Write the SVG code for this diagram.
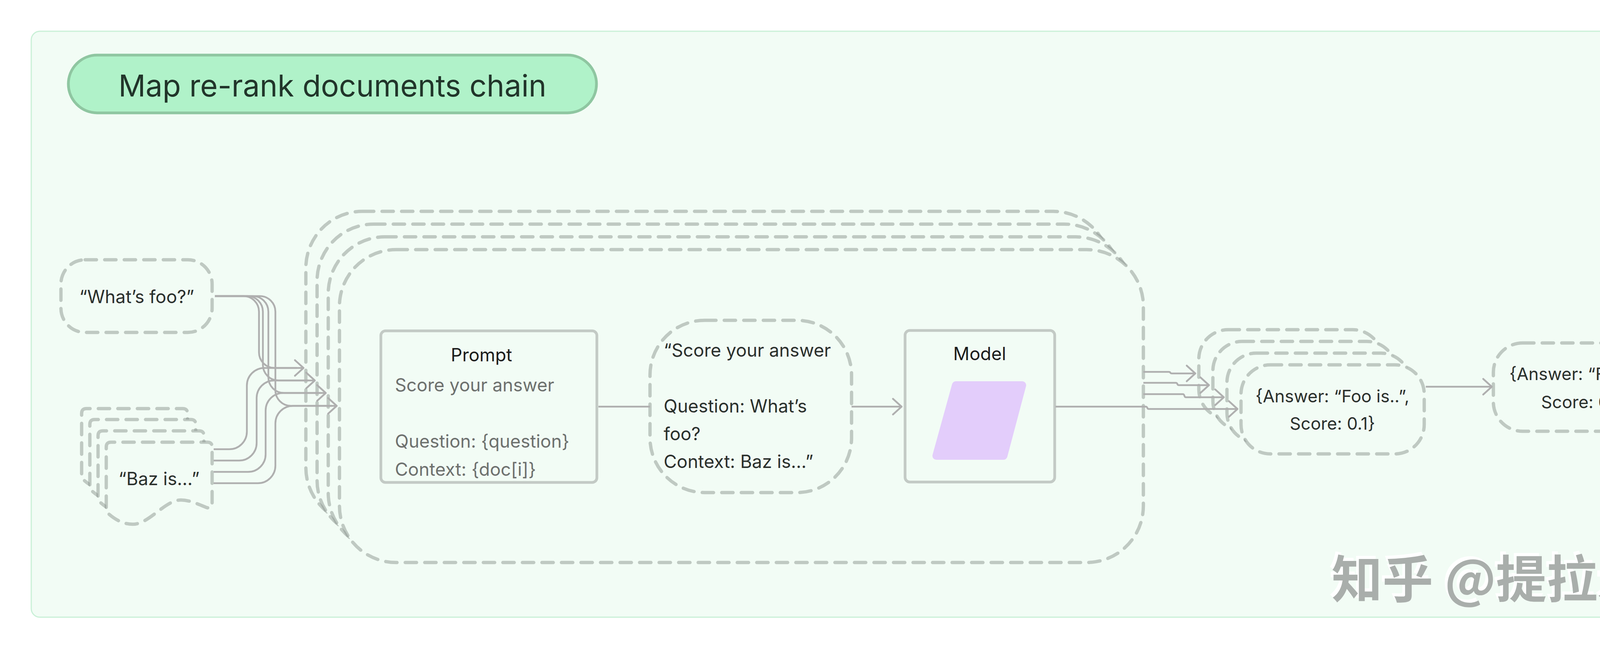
<svg xmlns="http://www.w3.org/2000/svg" width="4480" height="1664" viewBox="0 0 4480 1664">
<style>
.t{font-family:Inter,"Liberation Sans",sans-serif;}
.dash{fill:#f2fcf5;stroke:#8c968f;stroke-opacity:0.5;stroke-width:8.5;stroke-dasharray:29 21;stroke-linecap:round;}
.box{fill:#f2fcf5;stroke:#c3cac5;stroke-width:7;}
.ln{fill:none;stroke:#afafaf;stroke-width:4.5;stroke-linejoin:round;}
.arr{marker-end:url(#ah);}
.dark{fill:#2a2f2c;}
</style>
<defs>
<marker id="ah" markerUnits="userSpaceOnUse" viewBox="-28 -26 32 52" markerWidth="32" markerHeight="52" refX="0" refY="0" orient="auto">
<path d="M -22,-20 L 0,0 L -22,20" fill="none" stroke="#afafaf" stroke-width="4.5" stroke-linecap="round" stroke-linejoin="round"/>
</marker>
<path id="doc" d="M 0,12 Q 0,0 12,0 H 259 Q 271,0 271,12 V 158 Q 271,172 256,167 C 236,159 214,148 191,148 C 150,148 110,210 68,210 C 40,210 18,195 0,178 Z"/>
</defs>
<rect x="0" y="0" width="4480" height="1664" fill="#ffffff"/>
<g id="panel">
<rect x="80" y="80" width="4318" height="1500" rx="22" fill="#f2fcf5" stroke="#c9f0d7" stroke-width="3"/>
</g>
<g id="title">
<rect x="175" y="141" width="1352" height="148" rx="74" fill="#b0f2c9" stroke="#8fc6a1" stroke-width="7"/>
<text class="t" x="851" y="247" font-size="77" text-anchor="middle" fill="#21352a">Map re-rank documents chain</text>
</g>
<g id="chain-stack">
<rect class="dash" x="783" y="541" width="2058" height="801" rx="145"/>
<rect class="dash" x="811.7" y="573.7" width="2058" height="801" rx="145"/>
<rect class="dash" x="840.3" y="606.3" width="2058" height="801" rx="145"/>
<rect class="dash" x="869" y="639" width="2058" height="801" rx="145"/>
</g>
<g id="question">
<rect class="dash" x="156" y="665" width="387" height="186" rx="62"/>
<text class="t dark" x="350" y="776" font-size="46" text-anchor="middle">“What’s foo?”</text>
</g>
<g id="docs">
<use href="#doc" class="dash" x="209" y="1046"/>
<use href="#doc" class="dash" x="230" y="1074"/>
<use href="#doc" class="dash" x="251" y="1103"/>
<use href="#doc" class="dash" x="272" y="1132"/>
<text class="t dark" x="407" y="1242" font-size="46" text-anchor="middle">“Baz is…”</text>
</g>
<g id="prompt">
<rect class="box" x="975" y="847" width="553" height="388" rx="12"/>
<text class="t" x="1154" y="925" font-size="46" fill="#1c1c1c">Prompt</text>
<text class="t" font-size="46" fill="#6d706e"><tspan x="1011" y="1002">Score your answer</tspan><tspan x="1011" y="1146">Question: {question}</tspan><tspan x="1011" y="1218">Context: {doc[i]}</tspan></text>
</g>
<g id="filled-prompt">
<rect class="dash" x="1664" y="820" width="516" height="441" rx="140"/>
<text class="t dark" font-size="46"><tspan x="1699" y="913">“Score your answer</tspan><tspan x="1699" y="1056">Question: What’s</tspan><tspan x="1699" y="1127">foo?</tspan><tspan x="1699" y="1198">Context: Baz is…”</tspan></text>
</g>
<g id="model">
<rect class="box" x="2317" y="846" width="383" height="388" rx="12"/>
<text class="t" x="2508" y="922" font-size="46" text-anchor="middle" fill="#1c1c1c">Model</text>
<polygon points="2447,986 2617,986 2569,1167 2397,1167" fill="#e3cdfb" stroke="#e3cdfb" stroke-width="20" stroke-linejoin="round"/>
</g>
<g id="answers">
<rect class="dash" x="3069" y="844" width="469" height="228" rx="75"/>
<rect class="dash" x="3105" y="874" width="469" height="228" rx="75"/>
<rect class="dash" x="3141" y="904" width="469" height="228" rx="75"/>
<rect class="dash" x="3177" y="934" width="469" height="228" rx="75"/>
<text class="t dark" font-size="44" text-anchor="middle"><tspan x="3411" y="1030">{Answer: “Foo is..”,</tspan><tspan x="3411" y="1100">Score: 0.1}</tspan></text>
</g>
<g id="best-answer">
<rect class="dash" x="3823" y="878" width="477" height="226" rx="75"/>
<text class="t dark" font-size="44" text-anchor="middle"><tspan x="4061" y="973">{Answer: “Foo is..”,</tspan><tspan x="4061" y="1045">Score: 0.9}</tspan></text>
</g>
<g id="connectors">
<path class="ln arr" d="M 550,758 H 623 A 40 40 0 0 1 663,798 V 902 A 40 40 0 0 0 703,942 H 777"/>
<path class="ln arr" d="M 550,758 H 633 A 40 40 0 0 1 673,798 V 934 A 40 40 0 0 0 713,974 H 806"/>
<path class="ln arr" d="M 550,758 H 647 A 40 40 0 0 1 687,798 V 966 A 40 40 0 0 0 727,1006 H 834"/>
<path class="ln arr" d="M 550,758 H 665 A 40 40 0 0 1 705,798 V 999 A 40 40 0 0 0 745,1039 H 862"/>
<path class="ln" d="M 547,1150 H 587 A 45 45 0 0 0 632,1105 V 987 A 45 45 0 0 1 677,942 H 760"/>
<path class="ln" d="M 547,1179 H 612 A 45 45 0 0 0 657,1134 V 1019 A 45 45 0 0 1 702,974 H 790"/>
<path class="ln" d="M 547,1208 H 635 A 45 45 0 0 0 680,1163 V 1051 A 45 45 0 0 1 725,1006 H 820"/>
<path class="ln" d="M 547,1237 H 660 A 45 45 0 0 0 705,1192 V 1084 A 45 45 0 0 1 750,1039 H 850"/>
<path class="ln" d="M 1532,1041 H 1664"/>
<path class="ln arr" d="M 2180,1041 H 2308"/>
<path class="ln arr" d="M 2927,952 H 2992 C 2998,952 2994,956 3000,956 H 3060"/>
<path class="ln arr" d="M 2927,980 H 3010 C 3016,980 3012,986 3018,986 H 3095"/>
<path class="ln arr" d="M 2927,1009 H 3028 C 3034,1009 3030,1017 3036,1017 H 3133"/>
<path class="ln arr" d="M 2702,1041 H 2933 C 2939,1041 2935,1047 2941,1047 H 3168"/>
<path class="ln arr" d="M 3650,990 H 3819"/>
</g>
<g id="watermark" font-family="'Noto Sans CJK SC',sans-serif" font-size="130" font-weight="700">
<text x="3402" y="1522" fill="#ffffff">知乎 @提拉米苏</text>
<text x="3409" y="1530" fill="#a9aeab">知乎 @提拉米苏</text>
</g>
</svg>
